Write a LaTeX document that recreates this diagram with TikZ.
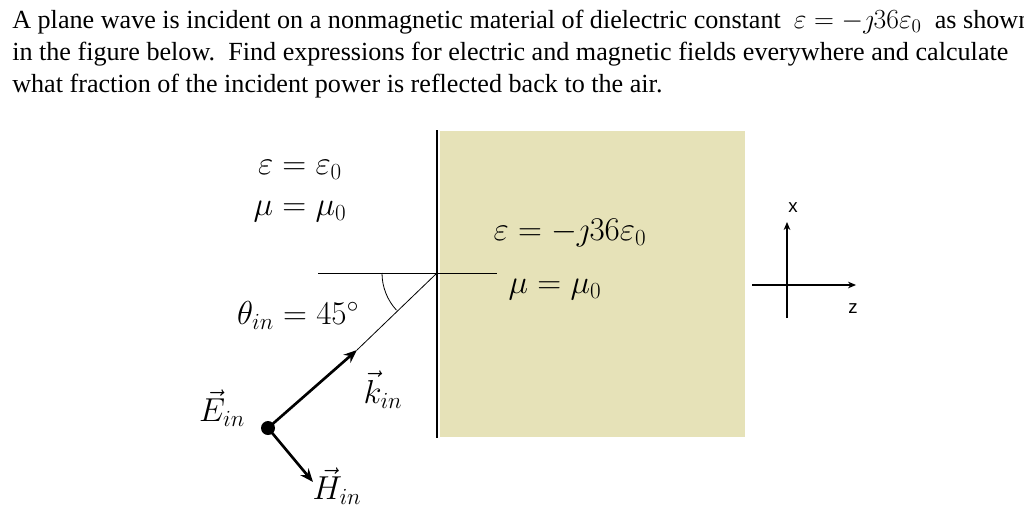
\documentclass[tikz,border=0pt]{standalone}
\usepackage{fontspec}
\setmainfont{Liberation Serif}
\setsansfont{Liberation Sans}
\usetikzlibrary{arrows.meta}
\begin{document}
\begin{tikzpicture}[x=0.75pt,y=-0.75pt,
  lab/.style={inner sep=0pt,font=\fontsize{26}{30}\selectfont},
  para/.style={inner sep=0pt,anchor=north west,align=left,font=\fontsize{19.6}{24}\selectfont},
  ax/.style={line width=0.8pt,-{Stealth[length=6pt,width=5pt]}}]
\useasboundingbox (0,0) rectangle (1024,512);
\node[para] (txt) at (12,10) {A plane wave is incident on a nonmagnetic material of dielectric constant \ $\varepsilon=-\jmath36\varepsilon_0$\ \ as shown\\
in the figure below.\ \ Find expressions for electric and magnetic fields everywhere and calculate\\
what fraction of the incident power is reflected back to the air.};
\fill[fill={rgb,255:red,230;green,226;blue,184}] (440,131) rectangle (745,437);
\draw[line width=1.3pt] (437,130) -- (437,438);
\coordinate (o) at (437,273);
\coordinate (h) at (318,273);
\coordinate (h2) at (497,273);
\draw[line width=0.6pt] (h) -- (h2);
\coordinate (dot) at (268,428);
\coordinate (tip) at (357,350);
\draw[line width=0.6pt] (tip) -- (o);
\draw[line width=2pt,-{Stealth[length=10pt,width=8pt]}] (dot) -- (tip);
\draw[line width=2pt,-{Stealth[length=10pt,width=8pt]}] (dot) -- (313,482);
\fill (dot) circle (7);
\draw[line width=0.6pt] (382,273) arc[start angle=180,end angle=137.5,radius=55];
\node[lab] (e1) at (300,170) {$\varepsilon=\varepsilon_0$};
\node[lab] (m1) at (300,212) {$\mu=\mu_0$};
\node[lab] (e2) at (570,233) {$\varepsilon=-\jmath36\varepsilon_0$};
\node[lab] (m2) at (555,290) {$\mu=\mu_0$};
\node[lab] (th) at (298,315) {$\theta_{in}=45^\circ$};
\node[lab] (k) at (383,390) {$\vec k_{in}$};
\node[lab] (E) at (222,408) {$\vec E_{in}$};
\node[lab] (H) at (337,486) {$\vec H_{in}$};
\coordinate (xa) at (787,318);
\coordinate (xb) at (787,222);
\coordinate (za) at (752,285);
\coordinate (zb) at (856,285);
\draw[ax] (xa) -- (xb);
\draw[ax] (za) -- (zb);
\node[font=\sffamily\fontsize{14}{16}\selectfont] (xl) at (793,208) {x};
\node[font=\sffamily\fontsize{14}{16}\selectfont] (zl) at (853,309) {z};
\end{tikzpicture}
\end{document}
